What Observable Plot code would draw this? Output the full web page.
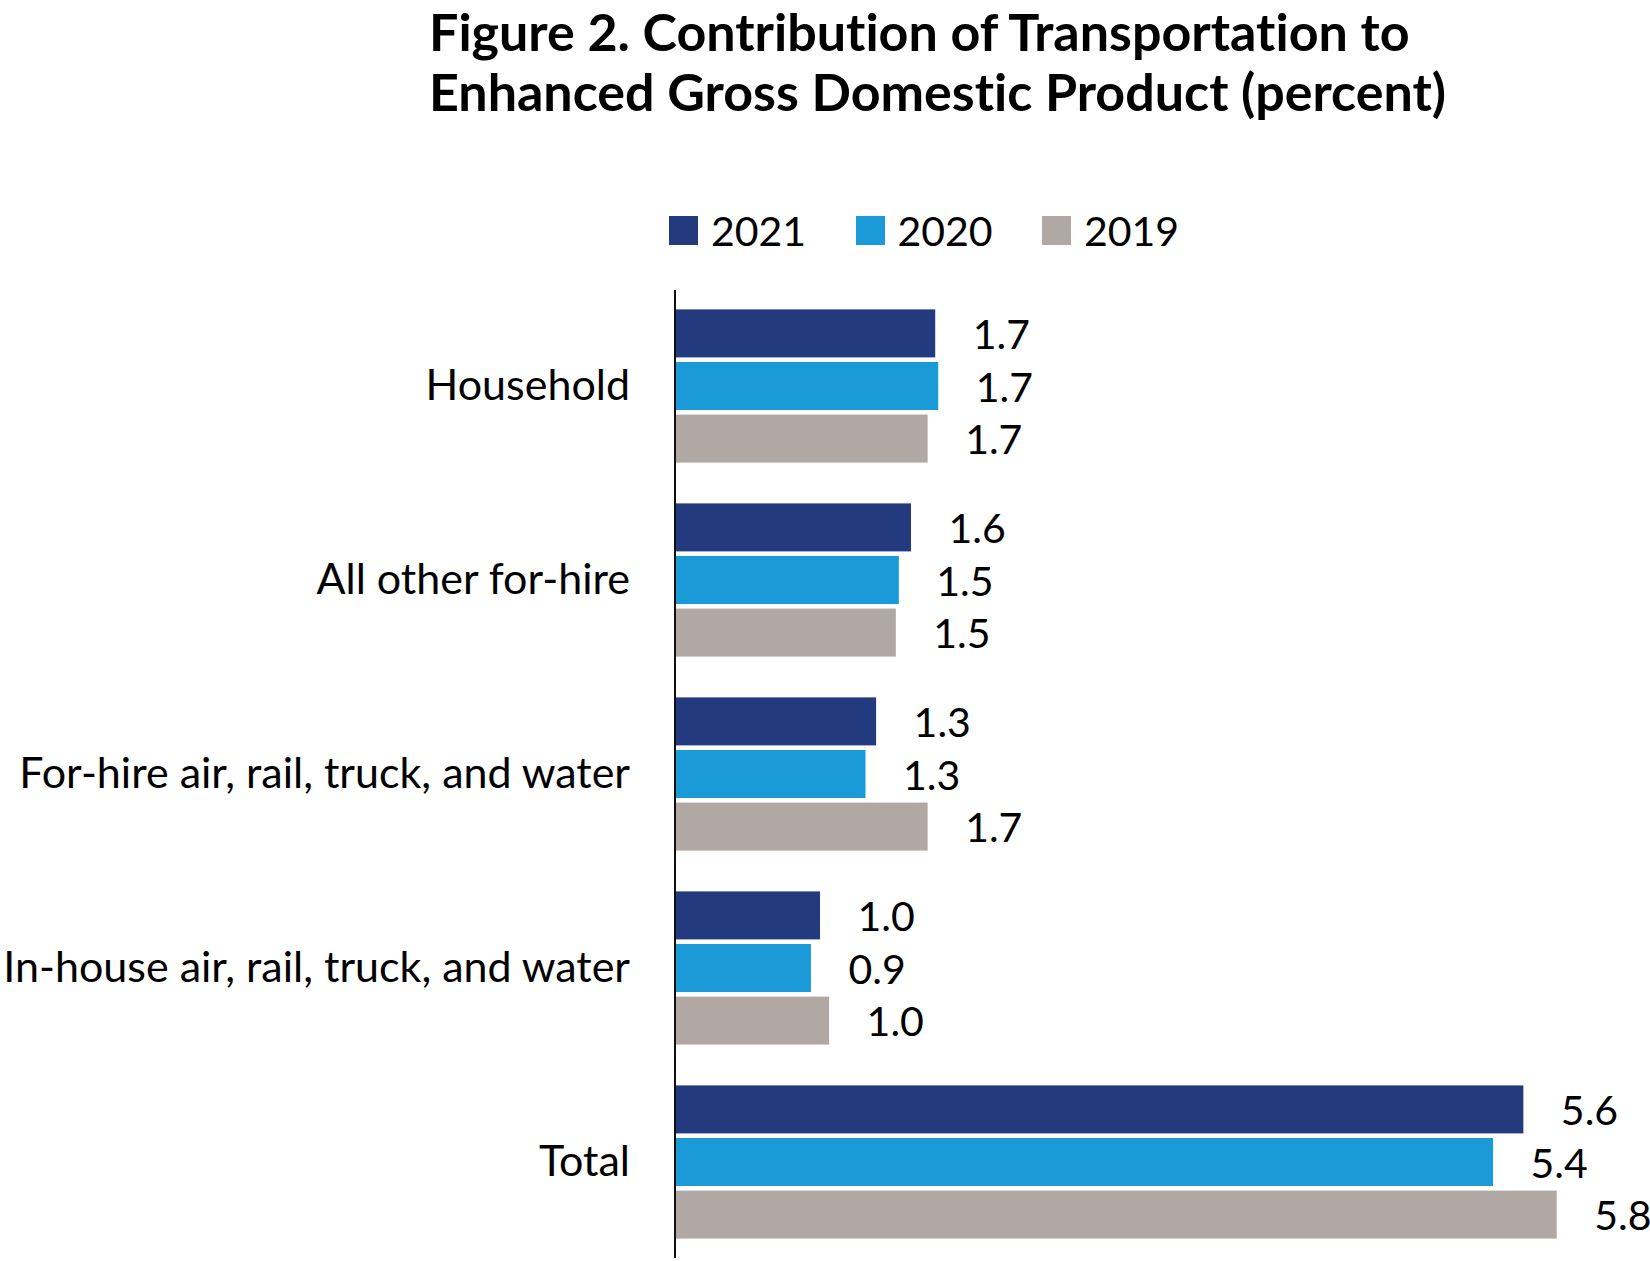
<!DOCTYPE html>
<html>
<head>
<meta charset="utf-8">
<script src="https://cdn.jsdelivr.net/npm/d3@7"></script>
<script src="https://cdn.jsdelivr.net/npm/@observablehq/plot@0.6"></script>
<style>
html, body { margin: 0; padding: 0; background: #fff; }
#page { position: relative; width: 1650px; height: 1261px; overflow: hidden; font-family: Lato, "Open Sans", sans-serif; color: #000; font-variant-ligatures: none; }
#title { position: absolute; left: 429px; top: 4px; font-size: 52px; font-weight: 700; white-space: nowrap; }
#title div { line-height: 55px; }
#title div + div { margin-top: 5px; }
#legend { position: absolute; left: 669px; top: 216px; display: flex; }
.item { display: flex; align-items: flex-start; width: 186.5px; }
.sw { width: 29px; height: 29px; margin-right: 13px; flex: none; }
.lab { font-size: 41px; line-height: 29px; }
#chart { position: absolute; left: 0; top: 280px; }
</style>
</head>
<body>
<div id="page">
  <div id="title"><div>Figure 2. Contribution of Transportation to</div><div>Enhanced Gross Domestic Product (percent)</div></div>
  <div id="legend"></div>
  <div id="chart"></div>
</div>
<script>
const categories = [
  "Household",
  "All other for-hire",
  "For-hire air, rail, truck, and water",
  "In-house air, rail, truck, and water",
  "Total"
];
const years = ["2021", "2020", "2019"];
const values2021 = [1.72, 1.56, 1.33, 0.96, 5.60];
const values2020 = [1.74, 1.48, 1.26, 0.90, 5.40];
const values2019 = [1.67, 1.46, 1.67, 1.02, 5.82];
const colors = ["#243a7f", "#1a9ad6", "#b2a8a3"];

const series = [values2021, values2020, values2019];
const fmt = d3.format(".1f");

// legend
const legend = document.getElementById("legend");
years.forEach((yr, i) => {
  const item = document.createElement("div");
  item.className = "item";
  const sw = document.createElement("div");
  sw.className = "sw";
  sw.style.background = colors[i];
  const lab = document.createElement("div");
  lab.className = "lab";
  lab.textContent = yr;
  item.appendChild(sw);
  item.appendChild(lab);
  legend.appendChild(item);
});

const pitch = 52.6; // vertical offset between bars of a group
const offsets = [-pitch, 0, pitch];

const marks = [];
years.forEach((yr, i) => {
  const rows = categories.map((c, j) => ({category: c, year: yr, value: series[i][j]}));
  marks.push(Plot.barX(rows, {
    x: "value", y: "category", fill: colors[i], dy: offsets[i], insetLeft: 1.5
  }));
  marks.push(Plot.text(rows, {
    x: "value", y: "category", text: d => fmt(d.value), dy: offsets[i] + 2, dx: 37,
    textAnchor: "start", fontSize: 41, fill: "#000"
  }));
});
marks.push(Plot.ruleX([0], {stroke: "#111", strokeWidth: 2}));

const chart = Plot.plot({
  width: 1650,
  height: 981,
  marginLeft: 674.5,
  marginRight: 66,
  marginTop: 10,
  marginBottom: 3,
  style: {fontFamily: "Lato, 'Open Sans', sans-serif", fontSize: "43px", color: "#000", background: "transparent"},
  x: {domain: [0, 6], axis: null},
  y: {domain: categories, paddingInner: 0.7508, paddingOuter: 0.3677, label: null, tickSize: 0, tickPadding: 45},
  marks
});
document.getElementById("chart").appendChild(chart);
</script>
</body>
</html>
